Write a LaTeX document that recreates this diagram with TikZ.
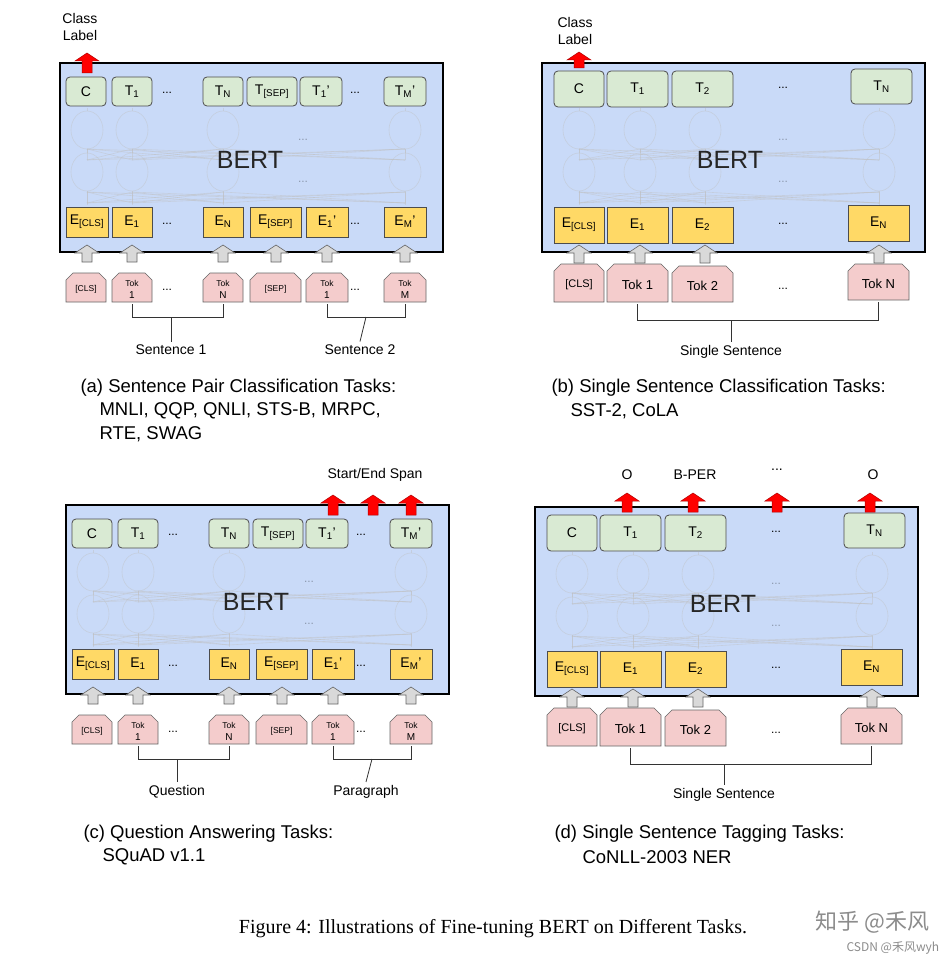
\documentclass[tikz,border=0pt]{standalone}
\usepackage{fontspec}
\setmainfont{Liberation Sans}
\newfontfamily\serifcap{Liberation Serif}
\newfontfamily\cjk{Noto Sans CJK SC}
\definecolor{bertblue}{HTML}{C9DAF8}
\definecolor{tgreen}{HTML}{D9EAD3}
\definecolor{eyellow}{HTML}{FFD966}
\definecolor{tokpink}{HTML}{F4CCCC}
\definecolor{arrgray}{HTML}{D9D9D9}
\tikzset{
 bertbox/.style={draw=black,line width=2.2pt,fill=bertblue},
 tbox/.style={draw=black!70,fill=tgreen,rounded corners=4pt,line width=0.8pt,font=\fontsize{14}{14}\selectfont},
 ebox/.style={draw=black!70,fill=eyellow,line width=0.8pt,font=\fontsize{14}{14}\selectfont},
 netc/.style={draw=black!25,opacity=0.45,line width=0.6pt},
 dotsf/.style={font=\fontsize{12}{12}\selectfont},
 lbl/.style={font=\fontsize{14}{17}\selectfont,align=center},
 captxt/.style={font=\fontsize{18.5}{18.5}\selectfont,anchor=west},
 grayarr/.style={fill=arrgray,draw=black!60,line width=0.6pt},
 redarr/.style={fill=red,draw=red!70!black,line width=0.5pt},
 brk/.style={draw=black!80,line width=0.8pt}
}
\newcommand\rbox[7]{\node[#6,minimum width={(#4-#2)*1pt},minimum height={(#5-#3)*1pt},inner sep=0pt] (#1) at ({(#2+#4)/2},{(#3+#5)/2}) {#7};}
\newcommand\tok[6]{\fill[tokpink,draw=black!60,line width=0.6pt] (#2,#5) -- (#2,{#3+7}) -- ({#2+7},#3) -- ({#4-7},#3) -- (#4,{#3+7}) -- (#4,#5) -- cycle;
 \node[minimum width={(#4-#2)*1pt},minimum height={(#5-#3)*1pt},inner sep=0pt,align=center] (#1) at ({(#2+#4)/2},{(#3+#5)/2+2}) {#6};}
\newcommand\uarr[4]{\filldraw[#4] ({#1-5},#3) -- ({#1-5},{#2+8}) -- ({#1-12},{#2+8}) -- (#1,#2) -- ({#1+12},{#2+8}) -- ({#1+5},{#2+8}) -- ({#1+5},#3) -- cycle;}
\newcommand\net[2]{\foreach \a in {#1}{\draw[netc] (\a,130) ellipse (16 and 19); \draw[netc] (\a,172) ellipse (16 and 19);
 \draw[netc] (\a,108)--(\a,111); \draw[netc] (\a,191)--(\a,205); \draw[netc] (\a,149)--(\a,153);
 \foreach \b in {#1}{\draw[netc] (\a,203) -- (\b,192); \draw[netc] (\a,160) -- (\b,149);}}
 \node[dotsf,opacity=0.3] at (#2,140) {...}; \node[dotsf,opacity=0.3] at (#2,182) {...};}
\newcommand\smallfont{\fontsize{8.5}{10}\selectfont}
\newcommand\panelA[1]{%
 \node[bertbox,minimum width=383pt,minimum height=189pt,inner sep=0pt] (#1bert) at (251.5,157.5) {};
 \net{87,132,223,405}{303}
 \node[font=\fontsize{25}{25}\selectfont,text=black!85] (#1B) at (250,160) {BERT};
 \rbox{#1T0}{66}{77}{106}{106}{tbox}{C}
 \rbox{#1T1}{112}{77}{152}{106}{tbox}{T\textsubscript{1}}
 \rbox{#1TN}{203}{77}{243}{106}{tbox}{T\textsubscript{N}}
 \rbox{#1TS}{247}{77}{297}{106}{tbox}{T\textsubscript{[SEP]}}
 \rbox{#1T1p}{300}{77}{342}{106}{tbox}{T\textsubscript{1}'}
 \rbox{#1TM}{384}{77}{426}{106}{tbox}{T\textsubscript{M}'}
 \node[dotsf] at (167,93) {...}; \node[dotsf] at (355,93) {...};
 \rbox{#1E0}{66}{207}{108}{237}{ebox}{E\textsubscript{[CLS]}}
 \rbox{#1E1}{112}{207}{152}{237}{ebox}{E\textsubscript{1}}
 \rbox{#1EN}{203}{207}{243}{237}{ebox}{E\textsubscript{N}}
 \rbox{#1ES}{250}{207}{301}{237}{ebox}{E\textsubscript{[SEP]}}
 \rbox{#1E1p}{306}{207}{348}{237}{ebox}{E\textsubscript{1}'}
 \rbox{#1EM}{384}{207}{426}{237}{ebox}{E\textsubscript{M}'}
 \node[dotsf] at (167,224) {...}; \node[dotsf] at (355,224) {...};
 \foreach \c in {87,132,223,276,327,405}{\uarr{\c}{245}{262}{grayarr}}
 \tok{#1K0}{66}{273}{106}{302}{\smallfont [CLS]}
 \tok{#1K1}{112}{273}{152}{302}{\smallfont Tok\\1}
 \tok{#1KN}{203}{273}{243}{302}{\smallfont Tok\\N}
 \tok{#1KS}{250}{273}{301}{302}{\smallfont [SEP]}
 \tok{#1K1p}{306}{273}{348}{302}{\smallfont Tok\\1}
 \tok{#1KM}{384}{273}{426}{302}{\smallfont Tok\\M}
 \node[dotsf] at (167,290) {...}; \node[dotsf] at (355,290) {...};
 \draw[brk] (#1K1.south) -- (132,317) -| (#1KN.south);
 \draw[brk] (#1K1p.south) -- (327,317) -| (#1KM.south);
}
\newcommand\panelB[1]{%
 \node[bertbox,minimum width=383pt,minimum height=189pt,inner sep=0pt] (#1bert) at (733.5,157.5) {};
 \net{579,640,705,879}{783}
 \node[font=\fontsize{25}{25}\selectfont,text=black!85] (#1B) at (730,160) {BERT};
 \rbox{#1T0}{554}{71}{604}{107}{tbox}{C}
 \rbox{#1T1}{607}{71}{668}{107}{tbox}{T\textsubscript{1}}
 \rbox{#1T2}{672}{71}{733}{107}{tbox}{T\textsubscript{2}}
 \rbox{#1TN}{851}{69}{912}{104}{tbox}{T\textsubscript{N}}
 \node[dotsf] at (783,88) {...};
 \rbox{#1E0}{554}{207}{604}{243}{ebox}{E\textsubscript{[CLS]}}
 \rbox{#1E1}{607}{207}{668}{243}{ebox}{E\textsubscript{1}}
 \rbox{#1E2}{672}{207}{733}{243}{ebox}{E\textsubscript{2}}
 \rbox{#1EN}{848}{205}{909}{241}{ebox}{E\textsubscript{N}}
 \node[dotsf] at (783,224) {...};
 \foreach \c in {579,640,705,879}{\uarr{\c}{245}{263}{grayarr}}
 \tok{#1K0}{554}{264}{604}{302}{\fontsize{11}{11}\selectfont [CLS]}
 \tok{#1K1}{607}{264}{668}{302}{\fontsize{13}{13}\selectfont Tok 1}
 \tok{#1K2}{672}{266}{733}{302}{\fontsize{13}{13}\selectfont Tok 2}
 \tok{#1KN}{848}{264}{909}{300}{\fontsize{13}{13}\selectfont Tok N}
 \node[dotsf] at (783,289) {...};
 \draw[brk] (#1K1.south) -- (637.5,320) -| (#1KN.south);
}
\begin{document}
\begin{tikzpicture}[x=1pt,y=-1pt]
\useasboundingbox (0,0) rectangle (949,963);
\fill[white] (0,0) rectangle (949,963);
\panelA{a}
\uarr{87}{53}{73}{redarr}
\node[lbl] (aCL) at (80,27) {Class\\Label};
\node[lbl] (aS1) at (171,350) {Sentence 1};
\node[lbl] (aS2) at (360,350) {Sentence 2};
\draw[brk] (171,317) -- (aS1.north);
\draw[brk] (366,317) -- (aS2.north);
\node[captxt] at (77,388) {(a) Sentence Pair Classification Tasks:};
\node[captxt] at (96,411) {MNLI, QQP, QNLI, STS-B, MRPC,};
\node[captxt] at (96,434) {RTE, SWAG};
\panelB{b}
\uarr{579}{52}{68}{redarr}
\node[lbl] (bCL) at (575,31) {Class\\Label};
\node[lbl] (bSS) at (731,352) {Single Sentence};
\draw[brk] (731,320) -- (bSS.north);
\node[captxt] at (548,388) {(b) Single Sentence Classification Tasks:};
\node[captxt] at (567,411) {SST-2, CoLA};
\begin{scope}[shift={(6,442)}]
\panelA{c}
\foreach \c in {327,367,405}{\uarr{\c}{53}{73}{redarr}}
\node[lbl] (cSE) at (369,33) {Start/End Span};
\node[lbl] (cQ) at (171,350) {Question};
\node[lbl] (cP) at (360,350) {Paragraph};
\draw[brk] (171,317) -- (cQ.north);
\draw[brk] (366,317) -- (cP.north);
\end{scope}
\node[captxt] at (80,834) {(c) Question Answering Tasks:};
\node[captxt] at (99,857) {SQuAD v1.1};
\begin{scope}[shift={(-7,444)}]
\panelB{d}
\foreach \c in {634,700,784,877}{\uarr{\c}{49}{68}{redarr}}
\node[lbl] (dO1) at (634,31) {O};
\node[lbl] (dBP) at (702,31) {B-PER};
\node[lbl] (dDt) at (784,26) {...};
\node[lbl] (dO2) at (880,31) {O};
\node[lbl] (dSS) at (731,351) {Single Sentence};
\draw[brk] (731,320) -- (dSS.north);
\end{scope}
\node[captxt] at (551,834) {(d) Single Sentence Tagging Tasks:};
\node[captxt] at (579,857) {CoNLL-2003 NER};
\node[font=\serifcap\fontsize{20}{20}\selectfont] (fig) at (493,929) {Figure 4: Illustrations of Fine-tuning BERT on Different Tasks.};
\node[font=\cjk\fontsize{22}{22}\selectfont,text=black!45,anchor=west] (wm1) at (812,922) {知乎 @禾风};
\node[font=\cjk\fontsize{12}{12}\selectfont,text=black!45,anchor=west] (wm2) at (843,948) {CSDN @禾风wyh};
\end{tikzpicture}
\end{document}
